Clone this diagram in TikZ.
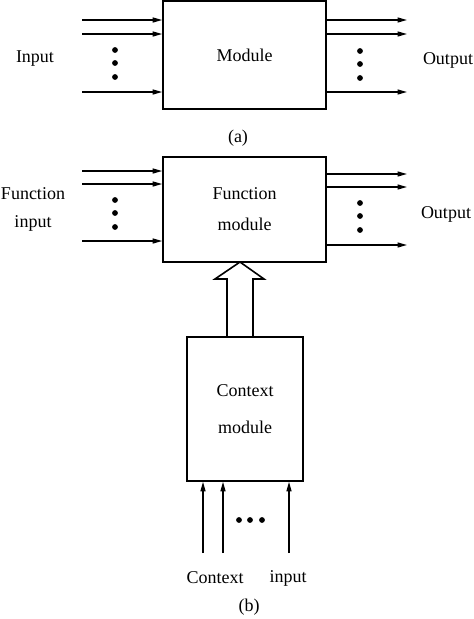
\documentclass[tikz,border=0pt]{standalone}
\usepackage{fontspec}
\setmainfont{Liberation Serif}
\usetikzlibrary{arrows.meta,positioning,backgrounds}

\begin{document}
\begin{tikzpicture}[
    x=1pt,y=-1pt,
    font=\fontsize{18}{28}\selectfont,
    line width=1.3pt,
    background rectangle/.style={fill=white,draw=none},
    show background rectangle,
    box/.style={draw=black,fill=white,line width=1.6pt,align=center,inner sep=0pt},
    arrow/.style={-{Triangle[length=9.5pt,width=5pt]},line width=1.3pt},
    fatarrow/.style={draw=black,line width=1.6pt,line join=miter},
    dot/.style={fill=black},
    label/.style={align=center,inner sep=0pt}
]
% pixel-sized canvas, y runs downwards
\path[use as bounding box] (0,0) rectangle (474,619);

%% (a)
\node[box,minimum width=163pt,minimum height=108pt] (mod) at (244.5,55) {Module};
\foreach \y [count=\i] in {20,34,92} {
    \coordinate (ina\i) at (82,\y);
    \coordinate (outa\i) at (407,\y);
    \draw[arrow] (ina\i) -- (ina\i -| mod.west);
    \draw[arrow] (outa\i -| mod.east) -- (outa\i);
}
\foreach \y in {50,63,77} {
    \fill[dot] (115,\y) circle (2.9);
    \fill[dot] (360,\y+1) circle (2.9);
}
\node[label] (inlabela) at (35,59) {Input};
\node[label] (outlabela) at (448,60) {Output};
\node[label] (capa) at (238,138) {(a)};

%% (b)
\node[box,minimum width=163pt,minimum height=105pt] (fmod) at (244.5,209.5)
    {Function\\[3pt]module};
\foreach \yi/\yo [count=\i] in {171/174,184/187,241/245} {
    \coordinate (inb\i) at (82,\yi);
    \coordinate (outb\i) at (407,\yo);
    \draw[arrow] (inb\i) -- (inb\i -| fmod.west);
    \draw[arrow] (outb\i -| fmod.east) -- (outb\i);
}
\foreach \y in {200,213,227} {
    \fill[dot] (115,\y) circle (2.9);
    \fill[dot] (360,\y+3) circle (2.9);
}
\node[label] (inlabelb) at (33,209) {Function\\input};
\node[label] (outlabelb) at (446,214) {Output};

\node[box,minimum width=116pt,minimum height=144pt] (cmod) at (245,409)
    {Context\\[9pt]module};

% hollow arrow from the context module into the function module
\draw[fatarrow] (227,337) -- (227,279) -- (215,279) -- (240,262)
    -- (264,279) -- (253,279) -- (253,337);

\foreach \x [count=\i] in {203,223,289} {
    \coordinate (cin\i) at (\x,553);
    \draw[arrow] (cin\i) -- (cin\i |- cmod.south);
}
\foreach \x in {239,250,262}
    \fill[dot] (\x,520) circle (2.9);
\node[label] (cinlabel) at (215,578) {Context};
\node[label] (cinlabel2) at (288,578) {input};
\node[label] (capb) at (249,607) {(b)};
\end{tikzpicture}
\end{document}
